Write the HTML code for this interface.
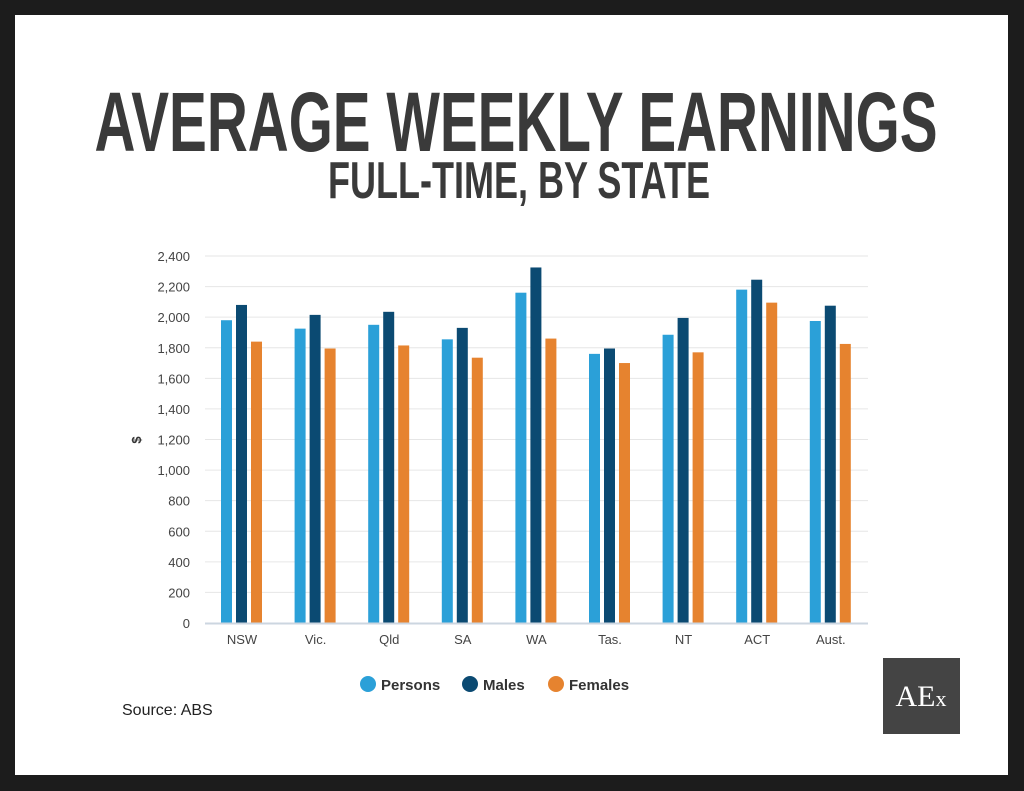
<!DOCTYPE html>
<html><head><meta charset="utf-8"><style>
html,body{margin:0;padding:0;background:#1c1c1c;}
svg{display:block;}
</style></head><body>
<svg width="1024" height="791" viewBox="0 0 1024 791" xmlns="http://www.w3.org/2000/svg" font-family="Liberation Sans, sans-serif">
<rect x="0" y="0" width="1024" height="791" fill="#1c1c1c"/>
<rect x="15" y="15" width="993" height="760" fill="#ffffff"/>
<text x="516" y="151" text-anchor="middle" font-size="84" font-weight="bold" fill="#3a3a3a" textLength="843" lengthAdjust="spacingAndGlyphs">AVERAGE WEEKLY EARNINGS</text>
<text x="519" y="198" text-anchor="middle" font-size="52" font-weight="bold" fill="#3a3a3a" textLength="382" lengthAdjust="spacingAndGlyphs">FULL-TIME, BY STATE</text>
<g id="grid" stroke="#e6e6e6" stroke-width="1"></g>
<g id="bars"></g>
<g font-size="13" fill="#444" text-anchor="end" id="ylab"></g>
<text x="141" y="440" font-size="13" font-weight="bold" fill="#333" transform="rotate(-90 141 440)" text-anchor="middle">$</text>
<line x1="205" y1="623.5" x2="868" y2="623.5" stroke="#ccd6e0" stroke-width="2"/>
<g font-size="13" fill="#444" text-anchor="middle" id="xlab"></g>
<circle cx="368" cy="684" r="8" fill="#2ba0d8"/>
<text x="381" y="690" font-size="15" font-weight="bold" fill="#333">Persons</text>
<circle cx="470" cy="684" r="8" fill="#0b4a72"/>
<text x="483" y="690" font-size="15" font-weight="bold" fill="#333">Males</text>
<circle cx="556" cy="684" r="8" fill="#e6832f"/>
<text x="569" y="690" font-size="15" font-weight="bold" fill="#333">Females</text>
<text x="122" y="715" font-size="16" fill="#222">Source: ABS</text>
<rect x="883" y="658" width="77" height="76" fill="#444444"/>
<text x="921" y="706" text-anchor="middle" font-family="Liberation Serif, serif" font-size="30" fill="#ffffff">AE<tspan font-size="22">x</tspan></text>
<script>
var ns="http://www.w3.org/2000/svg";
function el(p,t,a,txt){var e=document.createElementNS(ns,t);for(var k in a)e.setAttribute(k,a[k]);if(txt)e.textContent=txt;document.getElementById(p).appendChild(e);}
var y0=623,s=367/2400;
for(var v=200;v<=2400;v+=200){var y=y0-v*s;el("grid","line",{x1:205,x2:868,y1:y,y2:y});}
for(var v=0;v<=2400;v+=200){var y=y0-v*s;el("ylab","text",{x:190,y:y+5},v.toLocaleString("en-US"));}
var cats=["NSW","Vic.","Qld","SA","WA","Tas.","NT","ACT","Aust."];
var d=[[1980,2080,1840],[1925,2015,1795],[1950,2035,1815],[1855,1930,1735],[2160,2325,1860],[1760,1795,1700],[1885,1995,1770],[2180,2245,2095],[1975,2075,1825]];
var cols=["#2ba0d8","#0b4a72","#e6832f"];
for(var i=0;i<9;i++){var c=242+i*73.6;
 for(var j=0;j<3;j++){var h=d[i][j]*s;el("bars","rect",{x:c-21+j*15,y:y0-h,width:11,height:h,fill:cols[j]});}
 el("xlab","text",{x:c,y:644},cats[i]);}
</script>
</svg>
</body></html>
